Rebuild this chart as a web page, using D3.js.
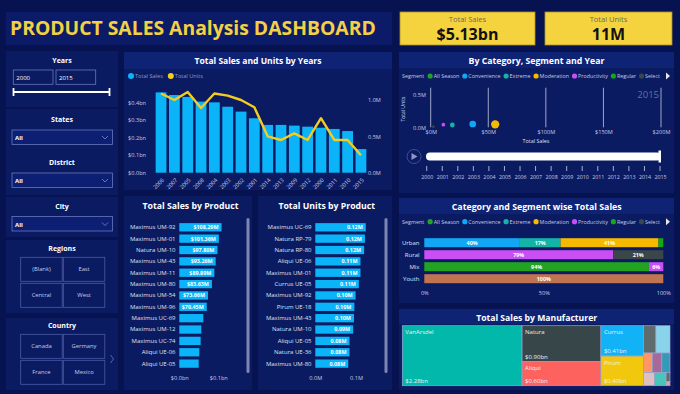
<!DOCTYPE html>
<meta charset="utf-8">
<style>
    body { margin: 0; background: #071350; }
    svg { display: block; font-family: "Open Sans", sans-serif; }
    .axis path, .axis line { display: none; }
    .axis text { fill: #c3c9e6; font-size: 5.6px; font-family: "Open Sans", sans-serif; }
    .ttl { fill: #fff; font-weight: bold; text-anchor: middle; font-size: 10px; }
    .lbl { fill: #c3c9e6; font-size: 5.4px; }
</style>
<svg id="dash" width="680" height="394"></svg>
<script src="https://cdn.jsdelivr.net/npm/d3@7"></script>
<script>

// ---- data ----
var kpiLabels = ["Total Sales", "Total Units"];
var kpiValues = ["$5.13bn", "11M"];

var years = ["2006","2007","2005","2008","2004","2003","2002","2001","2014","2013","2009","2012","2000","2011","2010","2015"];
var yearSales = [0.459,0.444,0.433,0.406,0.402,0.377,0.349,0.311,0.273,0.273,0.269,0.263,0.257,0.250,0.238,0.135]; // bn
var yearUnits = [1.09,1.00,1.11,0.89,1.09,1.06,1.00,0.90,0.50,0.45,0.54,0.45,0.75,0.45,0.45,0.24];        // M

var segments = ["All Season","Convenience","Extreme","Moderation","Productivity","Regular","Select"];
var segmentColors = ["#22a322","#12a7f5","#13b3a8","#f5b900","#c94ff5","#11aa11","#3b4648"];

var bubbleSegments = ["Select","Productivity","Extreme","Convenience","Moderation"];
var bubbleSales = [2.3, 11, 18.8, 36.5, 56];      // M
var bubbleUnits = [0.01, 0.04, 0.035, 0.05, 0.045]; // M
var playYears = [2000,2001,2002,2003,2004,2005,2006,2007,2008,2009,2010,2011,2012,2013,2014,2015];

var salesProducts = ["Maximus UM-92","Maximus UM-01","Natura UM-10","Maximus UM-43","Maximus UM-11","Maximus UM-80","Maximus UM-54","Maximus UM-96","Maximus UC-69","Maximus UM-12","Maximus UC-74","Aliqui UE-06","Aliqui UE-05"];
var productSales = [108.29,101.36,97.80,93.26,89.89,83.63,73.66,70.45,61.5,56.4,54.8,51.3,49.7]; // M

var unitProducts = ["Maximus UC-69","Natura RP-79","Natura RP-80","Aliqui UE-06","Maximus UM-01","Currus UE-05","Maximus UM-92","Pirum UE-18","Maximus UM-43","Natura UM-10","Aliqui UE-05","Natura UE-36","Maximus UM-80"];
var productUnits = [0.124,0.122,0.120,0.111,0.111,0.107,0.099,0.096,0.095,0.093,0.084,0.084,0.081]; // M

var categories = ["Urban","Rural","Mix","Youth"];
var categoryParts = [
    [["Convenience",40],["Extreme",17],["Moderation",41],["Regular",2]],
    [["Productivity",79],["Select",21]],
    [["All Season",94],["Productivity",6]],
    [["Youth",100]]
];

var manufacturers = ["VanArsdel","Natura","Aliqui","Currus","Pirum","Leo","Victoria","Abbas","Fama","Quibus","Palma","Pomum","Salvus","Barba"];
var manufacturerSales = [2.28,0.90,0.60,0.41,0.40,0.108,0.122,0.055,0.059,0.051,0.046,0.048,0.011,0.005]; // bn
var manufacturerColors = ["#01b8aa","#374649","#fd625e","#12b2f7","#f2c80f","#5f6b6d","#8ad4eb","#fe9666","#a66999","#3599b8","#dfbfbf","#4ac5bb","#5f6b6d","#e8a0a0"];

// ---- helpers ----
var svg = d3.select("#dash");
var PANEL = "#0b1b62", BAND = "#0f2375", BLUE = "#0bb4f8", YELLOW = "#f4cd1f";
var segColor = d3.scaleOrdinal().domain(segments.concat(["Youth"])).range(segmentColors.concat(["#c07452"]));

function box(x, y, w, h, fill) {
    return svg.append("rect").attr("x", x).attr("y", y).attr("width", w).attr("height", h).attr("fill", fill);
}
function fit(t, w) {
    var fs = parseFloat(t.style("font-size"));
    t.style("font-size", (fs * w / t.node().getComputedTextLength()).toFixed(2) + "px");
    return t;
}
function title(txt, cx, cy, w) {
    return fit(svg.append("text").attr("class", "ttl").attr("x", cx).attr("y", cy).attr("dy", "0.35em").text(txt), w);
}
function segLegend(y) {
    var g = svg.append("g");
    var t0 = g.append("text").attr("class", "lbl").attr("x", 402).attr("y", y).attr("dy", "0.35em").text("Segment");
    var cx = 402 + t0.node().getComputedTextLength() + 3;
    segments.forEach(function(s) {
        g.append("circle").attr("cx", cx + 3).attr("cy", y).attr("r", 2.6).attr("fill", segColor(s));
        var t = g.append("text").attr("class", "lbl").attr("x", cx + 6.5).attr("y", y).attr("dy", "0.35em").text(s);
        cx += 6.5 + t.node().getComputedTextLength() + 2.5;
    });
    g.append("path").attr("d", "M666," + (y - 3.5) + "l4,3.5l-4,3.5z").attr("fill", "#e6e8f2");
}

// ---- header ----
box(6, 12, 386, 33, "#0c1b68");
fit(svg.append("text").attr("x", 10).attr("y", 35).attr("fill", "#f3d142")
    .style("font-weight", "bold").style("font-size", "20px").text("PRODUCT SALES Analysis DASHBOARD"), 366);

[[400, 135], [545, 127]].forEach(function(p, i) {
    box(p[0], 12, p[1], 33, "#f5d33f").attr("stroke", "#a8922c").attr("stroke-width", 0.8);
    svg.append("text").attr("x", p[0] + p[1] / 2).attr("y", 22).attr("text-anchor", "middle")
        .attr("fill", "#6d6a58").style("font-size", "7.5px").text(kpiLabels[i]);
    svg.append("text").attr("x", p[0] + p[1] / 2).attr("y", 40).attr("text-anchor", "middle")
        .attr("fill", "#111").style("font-weight", "bold").style("font-size", "16px").text(kpiValues[i]);
});

// ---- left slicers ----
box(6, 51, 112, 56, PANEL);
box(6, 109, 112, 86, PANEL);
box(6, 197, 112, 40, PANEL);
box(6, 240, 112, 73, PANEL);
box(6, 318, 112, 72, PANEL);

function slicerTitle(txt, y) {
    svg.append("text").attr("x", 62).attr("y", y).attr("text-anchor", "middle").attr("fill", "#fff")
        .style("font-weight", "bold").style("font-size", "7px").text(txt);
}
function dropdown(y) {
    box(12, y, 100.5, 14.5, "#0d1f72").attr("stroke", "#6877bd").attr("stroke-width", 0.8);
    svg.append("text").attr("x", 15).attr("y", y + 10).attr("fill", "#fff")
        .style("font-size", "6px").style("font-weight", "bold").text("All");
    svg.append("path").attr("d", "M102," + (y + 6) + "l3,3l3,-3").attr("fill", "none")
        .attr("stroke", "#8b96c8").attr("stroke-width", 0.7);
}
function tiles(labels, y0) {
    labels.forEach(function(l, i) {
        var x = 20.7 + (i % 2) * 42.6, y = y0 + Math.floor(i / 2) * 26;
        box(x, y, 41.5, 24, "none").attr("stroke", "#4a5aa6").attr("stroke-width", 0.8);
        svg.append("text").attr("x", x + 20.75).attr("y", y + 14).attr("text-anchor", "middle")
            .attr("fill", "#c8cde8").style("font-size", "5.8px").text(l);
    });
}

slicerTitle("Years", 63);
[["2000", 13.3], ["2015", 56]].forEach(function(d) {
    box(d[1], 70, 39.7, 14.3, "none").attr("stroke", "#6877bd").attr("stroke-width", 0.8);
    svg.append("text").attr("x", d[1] + 3).attr("y", 79.5).attr("fill", "#fff").style("font-size", "6px").text(d[0]);
});
svg.append("line").attr("x1", 13.5).attr("x2", 109.5).attr("y1", 92).attr("y2", 92).attr("stroke", "#fff").attr("stroke-width", 1.8);
svg.append("line").attr("x1", 13.5).attr("x2", 13.5).attr("y1", 88).attr("y2", 96).attr("stroke", "#fff").attr("stroke-width", 1.8);
svg.append("line").attr("x1", 109.5).attr("x2", 109.5).attr("y1", 88).attr("y2", 96).attr("stroke", "#fff").attr("stroke-width", 1.8);

slicerTitle("States", 122); dropdown(130);
slicerTitle("District", 165); dropdown(173);
slicerTitle("City", 208.5); dropdown(216.5);
slicerTitle("Regions", 251); tiles(["(Blank)", "East", "Central", "West"], 257.3);
slicerTitle("Country", 328); tiles(["Canada", "Germany", "France", "Mexico"], 334.3);
svg.append("path").attr("d", "M110.5,355l3,4l-3,4").attr("fill", "none").attr("stroke", "#6877bd").attr("stroke-width", 0.8);

// ---- Total Sales and Units by Years ----
box(124, 52, 268, 138, PANEL); box(124, 52, 268, 17, BAND);
title("Total Sales and Units by Years", 258, 61, 127);

var lx = 131;
[["Total Sales", BLUE], ["Total Units", YELLOW]].forEach(function(d) {
    svg.append("circle").attr("cx", lx).attr("cy", 76).attr("r", 3).attr("fill", d[1]);
    var t = svg.append("text").attr("class", "lbl").attr("x", lx + 4).attr("y", 76).attr("dy", "0.35em")
        .style("fill", "#8f99c6").style("font-size", "5.6px").text(d[0]);
    lx += 4 + t.node().getComputedTextLength() + 8;
});

var x1 = d3.scaleBand().domain(years).range([155, 367]).paddingInner(0.19).paddingOuter(0.05);
var yS = d3.scaleLinear().domain([0, 0.5]).range([172.7, 85.2]);
var yU = d3.scaleLinear().domain([0, 1]).range([172.7, 100]);

svg.append("g").selectAll("rect").data(years).join("rect")
    .attr("x", function(d) { return x1(d); })
    .attr("width", x1.bandwidth())
    .attr("y", function(d, i) { return yS(yearSales[i]); })
    .attr("height", function(d, i) { return yS(0) - yS(yearSales[i]); })
    .attr("fill", BLUE);

svg.append("path").datum(years)
    .attr("fill", "none").attr("stroke", YELLOW).attr("stroke-width", 2.4).attr("stroke-linejoin", "round")
    .attr("d", d3.line()
        .x(function(d) { return x1(d) + x1.bandwidth() / 2; })
        .y(function(d, i) { return yU(yearUnits[i]); }));

svg.append("g").attr("class", "axis").attr("transform", "translate(146,0)")
    .call(d3.axisLeft(yS).tickValues([0, 0.1, 0.2, 0.3, 0.4]).tickSize(0).tickPadding(0)
        .tickFormat(function(d) { return "$" + d.toFixed(1) + "bn"; }));
svg.append("g").attr("class", "axis").attr("transform", "translate(368,0)")
    .call(d3.axisRight(yU).tickValues([0, 0.5, 1]).tickSize(0).tickPadding(0)
        .tickFormat(function(d) { return d.toFixed(1) + "M"; }));
svg.append("g").attr("class", "axis").attr("transform", "translate(0,173)")
    .call(d3.axisBottom(x1).tickSize(0))
    .selectAll("text").attr("y", 0).attr("dy", "0.35em")
    .attr("transform", "translate(2,6) rotate(-45)").style("text-anchor", "end");

// ---- By Category, Segment and Year ----
box(399, 52, 275, 141, PANEL); box(399, 52, 275, 16, BAND);
title("By Category, Segment and Year", 536.5, 61, 136);
segLegend(76);

var xs = d3.scaleLinear().domain([0, 200]).range([430.7, 661]);
var ys = d3.scaleLinear().domain([0, 0.6]).range([127.3, 87.7]);
var rs = d3.scaleSqrt().domain([0, 60]).range([0, 4.3]);

svg.append("g").selectAll("line").data([0, 50, 100, 150, 200]).join("line")
    .attr("x1", xs).attr("x2", xs).attr("y1", 87.7).attr("y2", 127.3)
    .attr("stroke", "#c5cae0").attr("stroke-width", 0.8);
svg.append("g").attr("class", "axis").attr("transform", "translate(0,130)")
    .call(d3.axisBottom(xs).tickValues([0, 50, 100, 150, 200]).tickSize(0).tickPadding(0)
        .tickFormat(function(d) { return "$" + d + "M"; }));
svg.append("g").attr("class", "axis").attr("transform", "translate(426,0)")
    .call(d3.axisLeft(ys).tickValues([0, 0.5]).tickSize(0).tickPadding(0)
        .tickFormat(function(d) { return d.toFixed(1) + "M"; }));
svg.append("text").attr("class", "lbl").attr("x", 536).attr("y", 143).attr("text-anchor", "middle")
    .style("fill", "#dfe2f2").text("Total Sales");
svg.append("text").attr("class", "lbl").attr("transform", "translate(405,109) rotate(-90)")
    .attr("text-anchor", "middle").style("fill", "#dfe2f2").style("font-size", "5px").text("Total Units");
svg.append("text").attr("x", 659).attr("y", 98).attr("text-anchor", "end").attr("fill", "#66709f")
    .style("font-size", "9.5px").text("2015");

svg.append("g").selectAll("circle").data(bubbleSegments).join("circle")
    .attr("cx", function(d, i) { return xs(bubbleSales[i]); })
    .attr("cy", function(d, i) { return ys(bubbleUnits[i]); })
    .attr("r", function(d, i) { return Math.max(1.3, rs(bubbleSales[i])); })
    .attr("fill", function(d) { return segColor(d); });

// play axis
svg.append("circle").attr("cx", 414).attr("cy", 156.5).attr("r", 7).attr("fill", "none").attr("stroke", "#4b58a0").attr("stroke-width", 0.8);
svg.append("path").attr("d", "M411.5,153l6,3.5l-6,3.5z").attr("fill", "#8d96c4");
var py = d3.scalePoint().domain(playYears).range([426.7, 660]);
svg.append("rect").attr("x", 426).attr("y", 152.5).attr("width", 235).attr("height", 8).attr("rx", 4).attr("fill", "#fff");
svg.append("rect").attr("x", 658.5).attr("y", 150.5).attr("width", 2.5).attr("height", 12).attr("fill", "#fff");
svg.append("g").selectAll("line").data(playYears).join("line")
    .attr("x1", py).attr("x2", py).attr("y1", 166).attr("y2", 171)
    .attr("stroke", "#d0d4ea").attr("stroke-width", 0.8);
svg.append("g").attr("class", "axis").attr("transform", "translate(0,175)")
    .call(d3.axisBottom(py).tickSize(0).tickPadding(0))
    .selectAll("text").style("font-size", "5.3px");

// ---- Total Sales by Product ----
box(124, 196, 128, 194, PANEL);
title("Total Sales by Product", 190.5, 206, 96);
var yP = d3.scaleBand().domain(salesProducts).range([221.6, 369.3]).paddingInner(0.27).paddingOuter(0.135);
var xP = d3.scaleLinear().domain([0, 100]).range([179.3, 218.3]);
svg.append("g").selectAll("rect").data(salesProducts).join("rect")
    .attr("x", xP(0)).attr("y", function(d) { return yP(d); })
    .attr("width", function(d, i) { return xP(productSales[i]) - xP(0); })
    .attr("height", yP.bandwidth()).attr("fill", BLUE);
svg.append("g").selectAll("text").data(salesProducts).join("text")
    .filter(function(d, i) { return productSales[i] > 65; })
    .attr("x", function(d, i) { return xP(productSales[i]) - 3; })
    .attr("y", function(d) { return yP(d) + yP.bandwidth() / 2; })
    .attr("dy", "0.35em").attr("text-anchor", "end").attr("fill", "#fff")
    .style("font-size", "5.4px").style("font-weight", "bold")
    .text(function(d) { return "$" + productSales[salesProducts.indexOf(d)].toFixed(2) + "M"; });
svg.append("g").attr("class", "axis").attr("transform", "translate(175.5,0)")
    .call(d3.axisLeft(yP).tickSize(0).tickPadding(0))
    .selectAll("text").style("fill", "#dfe2f2").style("font-size", "6px");
svg.append("g").attr("class", "axis").attr("transform", "translate(0,376)")
    .call(d3.axisBottom(xP).tickValues([0, 100]).tickSize(0).tickPadding(0)
        .tickFormat(function(d) { return "$" + (d / 1000).toFixed(1) + "bn"; }));
box(246.5, 218, 3, 155, "#7d86b3").attr("rx", 1.5);

// ---- Total Units by Product ----
box(258, 196, 134, 194, PANEL);
title("Total Units by Product", 326.7, 206, 96.7);
var yQ = d3.scaleBand().domain(unitProducts).range([221.6, 369.3]).paddingInner(0.27).paddingOuter(0.135);
var xQ = d3.scaleLinear().domain([0, 0.1]).range([315.3, 356]);
svg.append("g").selectAll("rect").data(unitProducts).join("rect")
    .attr("x", xQ(0)).attr("y", function(d) { return yQ(d); })
    .attr("width", function(d, i) { return xQ(productUnits[i]) - xQ(0); })
    .attr("height", yQ.bandwidth()).attr("fill", BLUE);
svg.append("g").selectAll("text").data(unitProducts).join("text")
    .attr("x", function(d, i) { return xQ(productUnits[i]) - 3; })
    .attr("y", function(d) { return yQ(d) + yQ.bandwidth() / 2; })
    .attr("dy", "0.35em").attr("text-anchor", "end").attr("fill", "#fff")
    .style("font-size", "5.4px").style("font-weight", "bold")
    .text(function(d, i) { return productUnits[i].toFixed(2) + "M"; });
svg.append("g").attr("class", "axis").attr("transform", "translate(311.5,0)")
    .call(d3.axisLeft(yQ).tickSize(0).tickPadding(0))
    .selectAll("text").style("fill", "#dfe2f2").style("font-size", "6px");
svg.append("g").attr("class", "axis").attr("transform", "translate(0,376)")
    .call(d3.axisBottom(xQ).tickValues([0, 0.1]).tickSize(0).tickPadding(0)
        .tickFormat(function(d) { return d.toFixed(1) + "M"; }));
box(384.5, 218, 3, 155, "#7d86b3").attr("rx", 1.5);

// ---- Category and Segment wise Total Sales ----
box(399, 198, 275, 105, PANEL); box(399, 198, 275, 16, BAND);
title("Category and Segment wise Total Sales", 536.7, 206.5, 170);
segLegend(221.7);
var xC = d3.scaleLinear().domain([0, 100]).range([424.3, 663.3]);
var yC = d3.scaleBand().domain(categories).range([236.7, 284.7]).paddingInner(0.25).paddingOuter(0.125);
categories.forEach(function(c, ci) {
    var acc = 0;
    categoryParts[ci].forEach(function(p) {
        var x0 = xC(acc), x1b = xC(acc + p[1]);
        box(x0, yC(c), x1b - x0, yC.bandwidth(), segColor(p[0]));
        if (x1b - x0 > 10) {
            svg.append("text").attr("x", (x0 + x1b) / 2).attr("y", yC(c) + yC.bandwidth() / 2)
                .attr("dy", "0.35em").attr("text-anchor", "middle").attr("fill", "#fff")
                .style("font-size", "5.4px").style("font-weight", "bold").text(p[1] + "%");
        }
        acc += p[1];
    });
});
svg.append("g").attr("class", "axis").attr("transform", "translate(419.5,0)")
    .call(d3.axisLeft(yC).tickSize(0).tickPadding(0))
    .selectAll("text").style("fill", "#dfe2f2").style("font-size", "6px");
svg.append("g").attr("class", "axis").attr("transform", "translate(0,291)")
    .call(d3.axisBottom(xC).tickValues([0, 50, 100]).tickSize(0).tickPadding(0)
        .tickFormat(function(d) { return d + "%"; }));

// ---- Total Sales by Manufacturer ----
box(399, 309, 275, 81, PANEL); box(399, 309, 275, 15, BAND);
title("Total Sales by Manufacturer", 536.7, 318.3, 121);
var root = d3.hierarchy({ children: manufacturers.map(function(m, i) {
    return { name: m, value: manufacturerSales[i], color: manufacturerColors[i] };
}) }).sum(function(d) { return d.value || 0; });
d3.treemap().size([267.7, 60]).tile(d3.treemapSquarify)(root);
var cells = svg.append("g").attr("transform", "translate(402.3,325.7)")
    .selectAll("g").data(root.leaves()).join("g");
cells.append("rect")
    .attr("x", function(d) { return d.x0; }).attr("y", function(d) { return d.y0; })
    .attr("width", function(d) { return d.x1 - d.x0; }).attr("height", function(d) { return d.y1 - d.y0; })
    .attr("fill", function(d) { return d.data.color; })
    .attr("stroke", "#9aa6d0").attr("stroke-width", 0.7);
var big = cells.filter(function(d) { return d.data.value > 0.3; });
big.append("text").attr("x", function(d) { return d.x0 + 3; }).attr("y", function(d) { return d.y0 + 8.5; })
    .attr("fill", "#eef0f6").style("font-size", "6px").text(function(d) { return d.data.name; });
big.append("text").attr("x", function(d) { return d.x0 + 3; }).attr("y", function(d) { return d.y1 - 3; })
    .attr("fill", "#eef0f6").style("font-size", "6px")
    .text(function(d) { return "$" + d.data.value.toFixed(2) + "bn"; });

</script>
